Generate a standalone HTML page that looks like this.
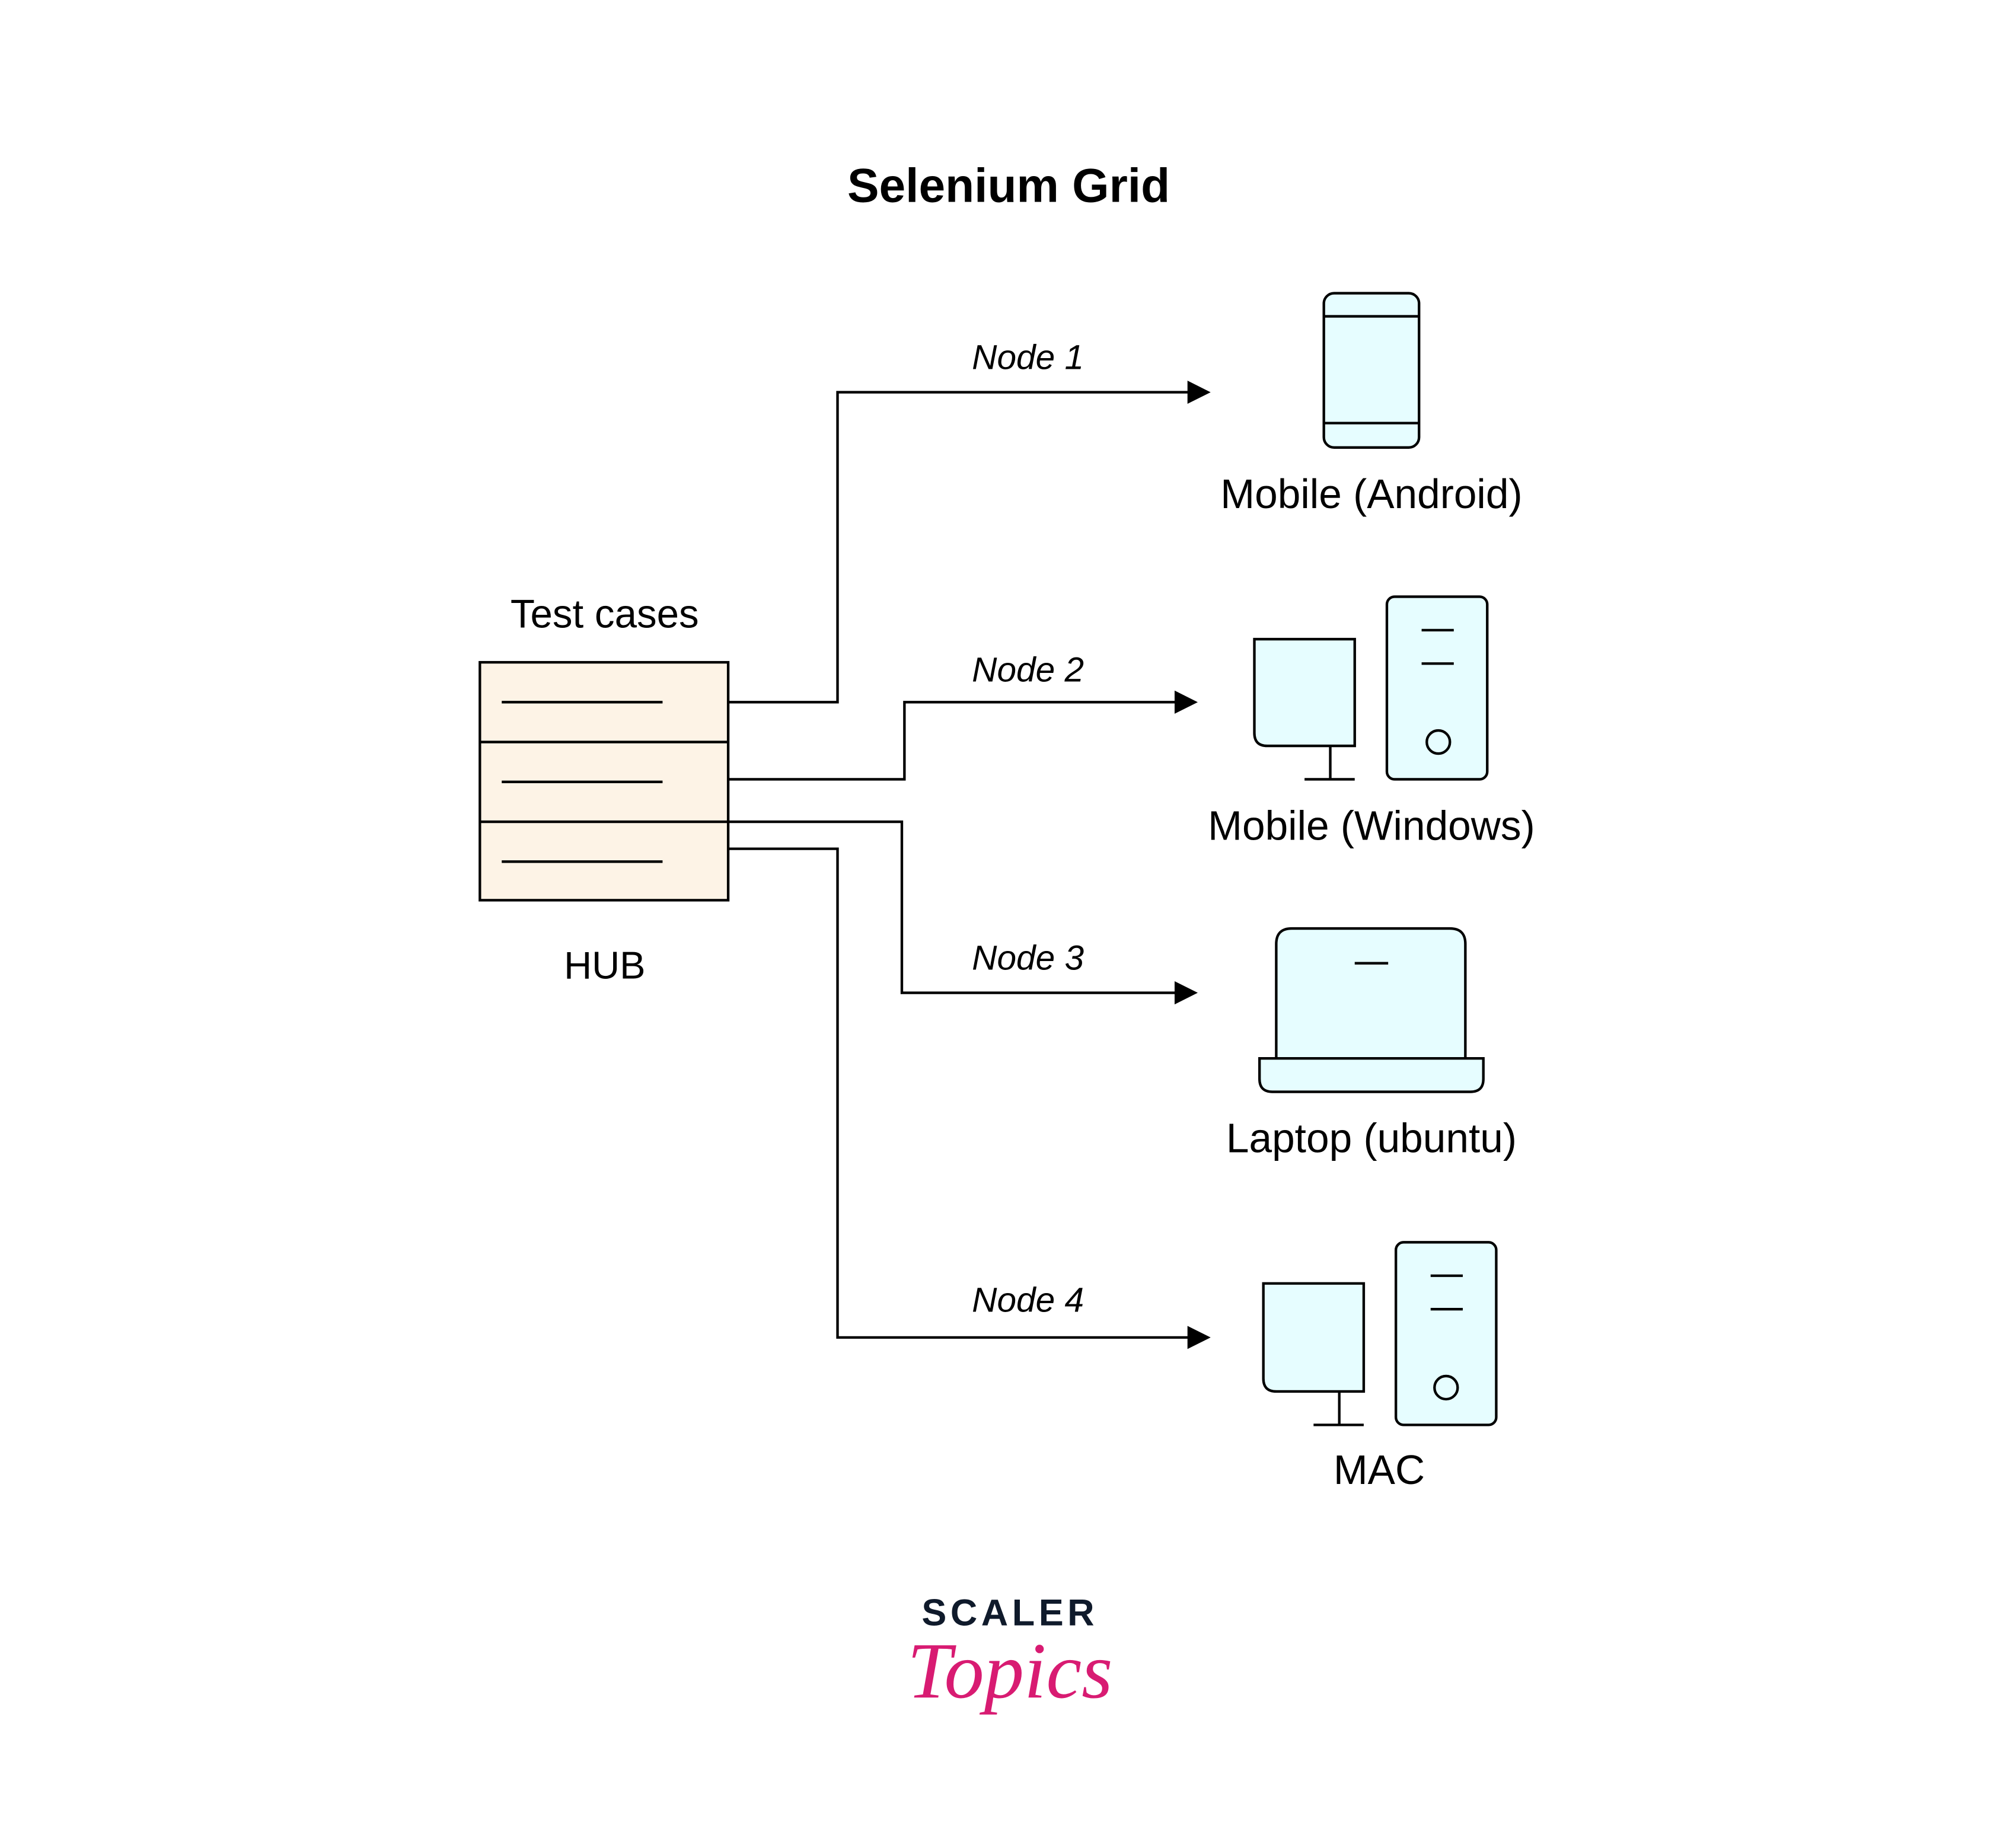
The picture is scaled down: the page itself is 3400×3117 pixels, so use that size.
<!DOCTYPE html>
<html><head><meta charset="utf-8"><style>html,body{margin:0;padding:0;background:#fff}svg{display:block}</style></head>
<body>
<svg width="3400" height="3117" viewBox="0 0 1567 1437" preserveAspectRatio="none" xmlns="http://www.w3.org/2000/svg" font-family="Liberation Sans, sans-serif">
<rect width="1567" height="1437" fill="#fff"/>
<text x="784" y="157" font-size="37" font-weight="bold" text-anchor="middle" fill="#000">Selenium Grid</text>
<text x="470" y="488" font-size="31" text-anchor="middle">Test cases</text>
<g stroke="#000" stroke-width="2" fill="none">
<rect x="373" y="515" width="193" height="185" fill="#fdf3e6"/>
<line x1="373" y1="577" x2="566" y2="577"/><line x1="373" y1="639" x2="566" y2="639"/>
<line x1="390" y1="546" x2="515" y2="546"/><line x1="390" y1="608" x2="515" y2="608"/><line x1="390" y1="670" x2="515" y2="670"/>
<polyline points="566,546 651,546 651,305 925,305"/>
<polyline points="566,606 703,606 703,546 915,546"/>
<polyline points="566,639 701,639 701,772 915,772"/>
<polyline points="566,660 651,660 651,1040 925,1040"/>
</g>
<g fill="#000">
<polygon points="923,296 941,305 923,314"/>
<polygon points="913,537 931,546 913,555"/>
<polygon points="913,763 931,772 913,781"/>
<polygon points="923,1031 941,1040 923,1049"/>
</g>
<text x="470" y="761" font-size="30" text-anchor="middle">HUB</text>
<g font-size="27" font-style="italic" text-anchor="middle">
<text x="799" y="287">Node 1</text><text x="799" y="530">Node 2</text><text x="799" y="754">Node 3</text><text x="799" y="1020">Node 4</text>
</g>
<g stroke="#000" stroke-width="2" fill="#e6fdff">
<rect x="1029" y="228" width="74" height="120" rx="8"/>
<line x1="1029" y1="246" x2="1103" y2="246"/><line x1="1029" y1="329" x2="1103" y2="329"/>
<path d="M975,497 H1053 V580 H985 Q975,580 975,570 Z"/>
<line x1="1034" y1="580" x2="1034" y2="606"/><line x1="1014" y1="606" x2="1053" y2="606"/>
<rect x="1078" y="464" width="78" height="142" rx="6"/>
<line x1="1105" y1="490" x2="1130" y2="490"/><line x1="1105" y1="516" x2="1130" y2="516"/>
<circle cx="1118" cy="577" r="9"/>
<path d="M992,823 V734 Q992,722 1004,722 H1127 Q1139,722 1139,734 V823 Z"/>
<line x1="1053" y1="749" x2="1079" y2="749"/>
<path d="M979,823 H1153 V839 Q1153,849 1143,849 H989 Q979,849 979,839 Z"/>
<path d="M982,998 H1060 V1082 H992 Q982,1082 982,1072 Z"/>
<line x1="1041" y1="1082" x2="1041" y2="1108"/><line x1="1021" y1="1108" x2="1060" y2="1108"/>
<rect x="1085" y="966" width="78" height="142" rx="6"/>
<line x1="1112" y1="992" x2="1137" y2="992"/><line x1="1112" y1="1018" x2="1137" y2="1018"/>
<circle cx="1124" cy="1079" r="9"/>
</g>
<g font-size="32" text-anchor="middle">
<text x="1066" y="395">Mobile (Android)</text>
<text x="1066" y="653">Mobile (Windows)</text>
<text x="1066" y="896">Laptop (ubuntu)</text>
<text x="1072" y="1154">MAC</text>
</g>
<text x="785" y="1264" font-size="29" font-weight="bold" letter-spacing="3" text-anchor="middle" fill="#0f1a2b">SCALER</text>
<text x="785" y="1320" font-size="62" font-style="italic" font-family="Liberation Serif, serif" text-anchor="middle" fill="#d81b72">Topics</text>
</svg>
</body></html>
